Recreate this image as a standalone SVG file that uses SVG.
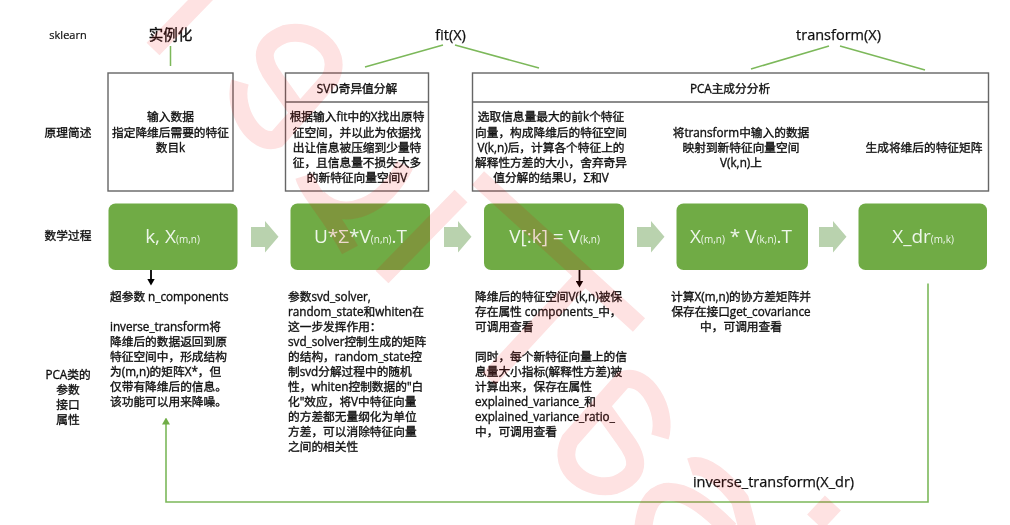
<svg xmlns="http://www.w3.org/2000/svg" width="1010" height="525" viewBox="0 0 1010 525">
<defs>
<filter id="soft" x="0" y="0" width="100%" height="100%" filterUnits="userSpaceOnUse" primitiveUnits="userSpaceOnUse"><feGaussianBlur stdDeviation="0.4"/></filter>
<marker id="ab" markerWidth="7" markerHeight="8" refX="3.500" refY="4" orient="auto" markerUnits="userSpaceOnUse"><path d="M0,0L7,4L0,8z" fill="#000"/></marker>
<marker id="ag" markerWidth="7" markerHeight="8" refX="3.500" refY="4" orient="auto" markerUnits="userSpaceOnUse"><path d="M0,0L7,4L0,8z" fill="#70ad47"/></marker>
<path id="sh" d="M0,6H14V0L27.500,15.700L14,31.500V26H0z" fill="#b9d2ae"/>
</defs>
<style>
text{font-family:"Open Sans","Noto Sans CJK SC",sans-serif;fill:#111}
.t{font-size:11.700px;text-anchor:middle;stroke:#111;stroke-width:.35px}
.l{font-size:11.700px;stroke:#111;stroke-width:.35px}
.h{font-size:14.500px;text-anchor:middle;stroke:#111;stroke-width:.25px}
.w{font-size:19px;text-anchor:middle;fill:#eef6ea}
.w tspan{font-size:10px}
.b{fill:none;stroke:#666;stroke-width:1.400}
.g{fill:#6fab45}
.gl{fill:none;stroke:#7cb85a;stroke-width:1.500}
.wm{fill:none;stroke:#f00000;stroke-width:18;opacity:.115}
</style>
<g filter="url(#soft)">
<g id="connectors">
<path class="gl" d="M170.500,46V66M443,45L365,67M455,45L539,68M829,46L751,69M840,46L925,70"/>
<path d="M151,248V282" stroke="#000" stroke-width="1.800" fill="none" marker-end="url(#ab)"/>
<path d="M579.500,249V284" stroke="#000" stroke-width="1.800" fill="none" marker-end="url(#ab)"/>
<path d="M928,283.500V502H166V421" fill="none" stroke="#7cb85a" stroke-width="1.600" marker-end="url(#ag)"/>
<use href="#sh" x="251" y="221"/><use href="#sh" x="444" y="221"/><use href="#sh" x="637" y="221"/><use href="#sh" x="819" y="221"/>
</g>
<g id="labels">
<text x="68" y="39" font-size="11" text-anchor="middle" stroke="#111" stroke-width=".2">sklearn</text>
<text x="68" y="137" class="t">原理简述</text>
<text x="68" y="240" class="t">数学过程</text>
<text x="68" y="379" class="t">PCA类的</text><text x="68" y="394" class="t">参数</text><text x="68" y="409" class="t">接口</text><text x="68" y="424" class="t">属性</text>
<text x="170.500" y="40" class="h" style="stroke-width:.4px">实例化</text>
<text x="450.500" y="40" class="h">fit(X)</text>
<text x="838.500" y="40" class="h">transform(X)</text>
<text x="773.500" y="487" class="h">inverse_transform(X_dr)</text>
</g>
<g id="box1"><rect class="b" x="108" y="73" width="125" height="118"/>
<text class="t" x="170.500" y="121">输入数据</text><text class="t" x="170.500" y="136.500">指定降维后需要的特征</text><text class="t" x="170.500" y="152">数目k</text></g>
<g id="box2"><rect class="b" x="285.500" y="73" width="143" height="118"/><path class="b" d="M285.500,102H428.500"/>
<text class="t" x="357" y="93">SVD奇异值分解</text>
<text class="t" x="357" y="121">根据输入fit中的X找出原特</text><text class="t" x="357" y="136.500">征空间，并以此为依据找</text><text class="t" x="357" y="152">出让信息被压缩到少量特</text><text class="t" x="357" y="167">征，且信息量不损失大多</text><text class="t" x="357" y="182">的新特征向量空间V</text></g>
<g id="box3"><rect class="b" x="472.500" y="73" width="516" height="118"/><path class="b" d="M472.500,102H988.500"/>
<text class="t" x="730" y="93">PCA主成分分析</text>
<text class="t" x="551" y="121">选取信息量最大的前k个特征</text><text class="t" x="551" y="136.500">向量，构成降维后的特征空间</text><text class="t" x="551" y="152">V(k,n)后，计算各个特征上的</text><text class="t" x="551" y="167">解释性方差的大小，舍弃奇异</text><text class="t" x="551" y="182">值分解的结果U，Σ和V</text>
<text class="t" x="741" y="136.500">将transform中输入的数据</text><text class="t" x="741" y="152">映射到新特征向量空间</text><text class="t" x="741" y="167">V(k,n)上</text>
<text class="t" x="924" y="152">生成将维后的特征矩阵</text></g>
<g id="n1"><rect class="g" x="108.500" y="203.500" width="129" height="66.500" rx="7"/><text class="w" x="172.500" y="243">k, X<tspan>(m,n)</tspan></text></g>
<g id="n2"><rect class="g" x="290.500" y="203.500" width="139.500" height="66.500" rx="7"/><text class="w" x="360.500" y="243">U*Σ*V<tspan>(n,n)</tspan>.T</text></g>
<g id="n3"><rect class="g" x="484" y="203.500" width="140" height="66.500" rx="7"/><text class="w" x="554.500" y="243">V[:k] = V<tspan>(k,n)</tspan></text></g>
<g id="n4"><rect class="g" x="676.500" y="203.500" width="131.500" height="66.500" rx="7"/><text class="w" x="741" y="243">X<tspan>(m,n)</tspan> * V<tspan>(k,n)</tspan>.T</text></g>
<g id="n5"><rect class="g" x="858.500" y="203.500" width="128.500" height="66.500" rx="7"/><text class="w" x="923" y="243">X_dr<tspan>(m,k)</tspan></text></g>
<g id="text1">
<text class="l" x="110" y="301">超参数 n_components</text>
<text class="l" x="110" y="331">inverse_transform将</text><text class="l" x="110" y="346">降维后的数据返回到原</text><text class="l" x="110" y="361">特征空间中，形成结构</text><text class="l" x="110" y="376">为(m,n)的矩阵X*，但</text><text class="l" x="110" y="391">仅带有降维后的信息。</text><text class="l" x="110" y="406">该功能可以用来降噪。</text></g>
<g id="text2">
<text class="l" x="288" y="301">参数svd_solver,</text><text class="l" x="288" y="316">random_state和whiten在</text><text class="l" x="288" y="331">这一步发挥作用：</text><text class="l" x="288" y="346">svd_solver控制生成的矩阵</text><text class="l" x="288" y="361">的结构，random_state控</text><text class="l" x="288" y="376">制svd分解过程中的随机</text><text class="l" x="288" y="391">性，whiten控制数据的"白</text><text class="l" x="288" y="406">化"效应，将V中特征向量</text><text class="l" x="288" y="421">的方差都无量纲化为单位</text><text class="l" x="288" y="436">方差，可以消除特征向量</text><text class="l" x="288" y="451">之间的相关性</text></g>
<g id="text3">
<text class="l" x="475" y="301">降维后的特征空间V(k,n)被保</text><text class="l" x="475" y="316">存在属性 components_中，</text><text class="l" x="475" y="331">可调用查看</text>
<text class="l" x="475" y="361">同时，每个新特征向量上的信</text><text class="l" x="475" y="376">息量大小指标(解释性方差)被</text><text class="l" x="475" y="391">计算出来，保存在属性</text><text class="l" x="475" y="406">explained_variance_和</text><text class="l" x="475" y="421">explained_variance_ratio_</text><text class="l" x="475" y="436">中，可调用查看</text></g>
<g id="text4">
<text class="t" x="741" y="301">计算X(m,n)的协方差矩阵并</text><text class="t" x="741" y="316">保存在接口get_covariance</text><text class="t" x="741" y="331">中，可调用查看</text></g>
<g id="watermark" class="wm">
<path d="M153,49L215,-15"/>
<path d="M240,82C232,109 255,147 277,139L330,79C345,49 310,27 285,34C260,44 260,59 275,79L300,114"/>
<path d="M304,176C310,195 330,212 350,250M318,198C345,225 385,205 405,165"/>
<path d="M461,196L382,277"/>
<path d="M478,178L639,325M489,379L590,270"/>
<path d="M660,437C668,410 645,372 623,380L570,440C555,470 590,492 615,485C640,475 640,460 625,440L600,405"/>
<path d="M690,467C705,462 725,480 740,500L748,530M643,530C645,510 650,495 665,492C685,490 705,505 730,530"/>
<path d="M816,505L832,520" stroke-width="26"/>
</g>
</g>
</svg>
